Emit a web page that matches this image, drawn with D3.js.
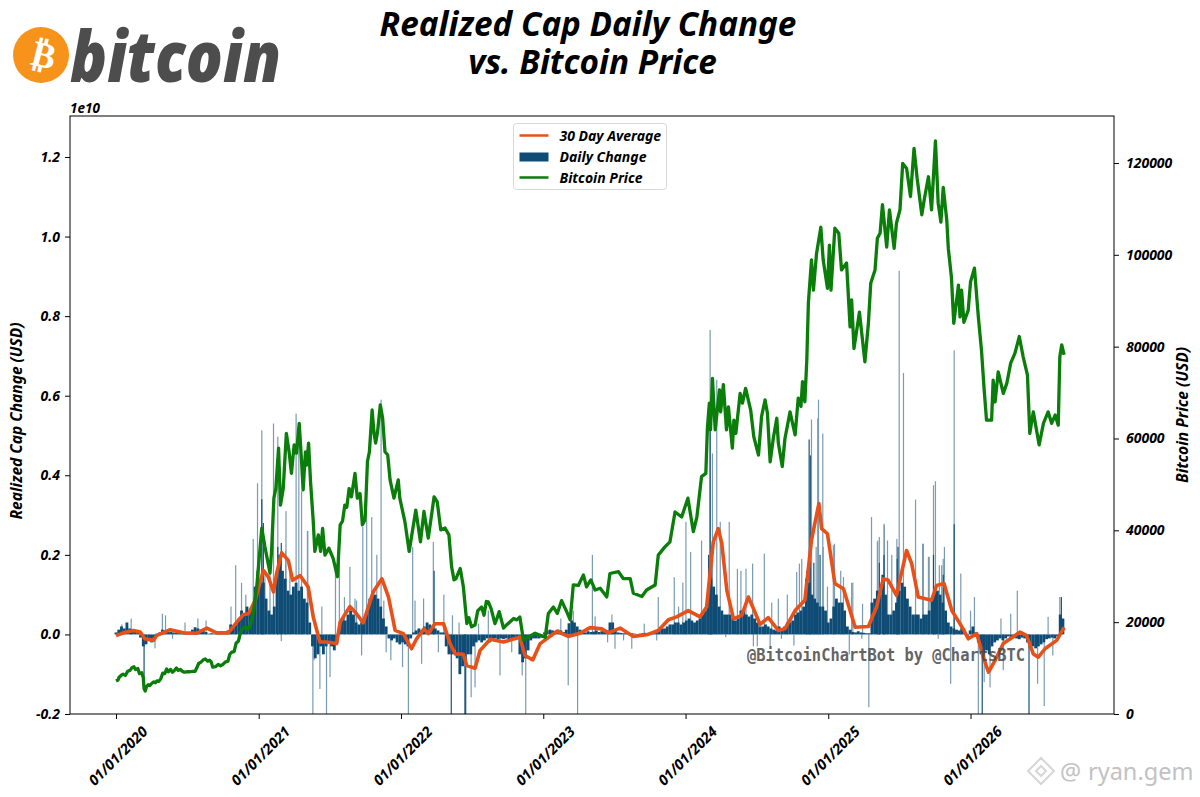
<!DOCTYPE html>
<html>
<head>
<meta charset="utf-8">
<script src="https://cdn.jsdelivr.net/npm/d3@7"></script>
<style>
  html, body { margin: 0; background: #fff; }
  text { font-family: "Noto Sans", sans-serif; font-weight: 700; font-style: italic; fill: #000; }
</style>
</head>
<body>
<svg id="chart" width="1200" height="797"></svg>
<script>
// every day value below counts days from 01/01/2020
const startDate = Date.UTC(2020, 0, 1);
const yearTicks = [2020, 2021, 2022, 2023, 2024, 2025, 2026];
const leftTicks = [-0.2, 0, 0.2, 0.4, 0.6, 0.8, 1.0, 1.2];
const rightTicks = [0, 20000, 40000, 60000, 80000, 100000, 120000];

// weekly body of the daily change, in units of 1e10 USD
const changeWeekly = [
  // 2020
  .005,.012,.02,.015,.03,.015,.012,.01,.005,-.008,-.03,-.025,-.015,-.02,-.012,
  .002,.005,.012,.01,.008,.006,.005,.004,.006,.004,.003,.004,.006,.012,.018,.015,.012,.014,.006,
  .002,.003,.002,.003,.004,.003,.004,.01,.025,.02,.03,.04,.06,.05,.07,.055,.07,.12,.16,
  // 2021
  .14,.13,.09,.06,.05,.07,.15,.2,.16,.14,
  .11,.1,.12,.13,.11,.12,.09,.08,.03,-.03,
  -.06,-.05,-.03,-.05,-.03,-.02,-.03,-.04,-.02,.02,
  .04,.035,.05,.06,.05,.03,.025,.03,.04,.06,
  .09,.1,.1,.09,.07,.04,.02,-.01,-.015,-.01,
  -.02,-.025,
  // 2022
  -.02,-.025,-.03,-.01,.005,.01,
  .015,.01,.02,.03,.025,.02,.015,.01,.005,.005,
  -.03,-.05,-.05,-.04,-.06,-.1,-.08,-.07,-.05,
  -.05,-.03,-.02,-.015,-.02,-.015,-.01,-.02,-.015,-.01,-.012,-.01,-.012,-.01,-.015,-.01,-.008,-.01,
  -.05,-.07,-.06,-.04,-.015,-.01,-.01,-.01,-.008,
  // 2023
  .005,.01,.012,.01,.008,.012,
  .01,.006,.012,.028,.035,.03,.02,.012,
  .006,.005,.008,.006,.007,.01,.006,.008,.006,.01,.03,.03,
  .01,.005,.004,.003,.003,.004,.003,.002,-.002,.002,.003,.004,.003,.004,.005,
  .008,.012,.015,.015,.02,.025,.025,.03,.03,.025,.03,
  // 2024
  .035,.04,.035,.03,.035,.04,
  .05,.06,.1,.14,.12,.1,.07,.06,.05,.05,
  .05,.04,.035,.04,.06,.06,.05,.045,.05,.04,
  .03,.02,.02,.025,.02,.015,
  .012,.01,.02,.015,.02,.03,.03,.035,
  .05,.055,.06,.07,.14,.13,.1,.09,.08,.07,.07,.06,
  // 2025
  .03,.04,.07,.09,.08,.08,.06,.02,.012,.006,
  .005,.008,.005,.004,.003,.003,.08,.09,.11,.1,
  .15,.1,.05,.05,.06,.08,.11,.13,.12,.09,
  .07,.05,.05,.05,.04,.05,.05,.06,.09,.11,
  .11,.1,.08,.06,.03,.02,.015,.012,.01,.015,
  .005,-.005,
  // 2026
  .01,.02,.005,-.02,-.05,-.06,-.04,-.05,-.03,-.02,
  -.015,-.01,-.015,-.01,-.005,-.008,-.005,-.01,-.012,
  -.008,-.01,-.02,-.035,-.03,-.035,-.03,-.025,-.02,-.012,-.01,-.008,-.01,-.005,.05,.04
];

// single day spikes above the body, [day, change in 1e10 USD]
const changeSpikes = [
  [15,.025],[39,.04],[100,-.035],[119,.052],[127,.048],[145,-.011],[177,.03],[210,.04],[231,.035],
  [295,.07],[307,.174],[322,.13],[333,.1],[352,.24],[363,.38],[365,.186],[374,.513],[382,.16],[395,.17],[404,.53],[415,.497],[424,-.017],
  [435,.21],[436,.31],[446,.16],[462,.555],[469,.53],[476,.36],[491,.26],[492,.26],[505,-.2],[508,-.065],[523,-.137],[528,.07],[540,-.2],[549,-.107],
  [563,.17],[573,.195],[586,.094],[600,.17],[613,.09],[617,.085],[630,-.053],[633,.27],[643,.287],[656,.295],[669,.2],[680,.59],[687,.085],
  [693,-.045],[705,-.065],[735,-.082],[750,-.2],[761,.22],[767,.085],[784,-.074],[789,.09],
  [814,.232],[827,-.045],[841,.1],[863,.048],[880,.03],[911,-.158],[921,-.133],[930,.027],[955,.06],
  [985,-.103],[1015,-.045],[1042,-.103],[1051,-.2],[1118,.01],[1141,.04],[1160,-.128],[1173,.06],[1184,-.2],
  [1222,.2],[1229,.045],[1261,-.02],[1272,.05],[1280,-.036],[1302,-.015],[1323,-.036],[1355,.027],[1387,-.015],
  [1391,.094],[1432,.144],[1443,.07],[1454,.13],[1462,.283],[1474,.207],[1502,.236],[1524,.765],[1530,.455],
  [1541,.64],[1550,.283],[1564,-.007],[1573,.283],[1594,.165],[1603,.16],[1616,.165],[1633,.178],[1635,-.03],
  [1645,-.03],[1663,.203],[1678,-.03],[1682,.08],[1699,.09],[1707,-.011],[1722,.1],[1739,-.028],[1746,.157],
  [1753,.178],[1759,.19],[1772,.16],[1784,.54],[1796,.22],[1800,.543],[1802,.59],[1813,.505],[1814,.22],[1825,.12],[1840,.224],[1843,.228],[1859,.16],[1866,.144],[1881,-.05],
  [1887,.13],[1890,.13],[1913,-.011],[1915,.077],[1931,-.183],[1938,.295],[1953,.232],[1954,.236],[1958,.245],[1970,.278],[1971,.274],[1979,.236],[1990,.2],
  [2003,.24],[2009,.914],[2020,.657],[2051,.339],[2069,.228],[2071,.228],[2084,.195],[2086,.195],[2097,.375],[2102,.385],[2109,-.011],
  [2112,.174],[2118,.174],[2122,.19],[2125,.22],[2141,-.124],[2150,.714],[2167,.153],[2192,.06],[2202,.094],[2212,-.2],[2227,-.12],[2242,-.133],
  [2270,.04],[2276,-.09],[2295,.052],[2312,.11],[2364,-.124],[2381,-.18],[2391,.044],[2403,-.053],[2421,.094]
];

// the same, for the spikes that show at full colour
const changeDarkSpikes = [
  [72,-.13],[374,.34],[378,.28],[415,.22],[424,.23],[816,.16],[860,-.2],[895,-.2],[897,-.2],[1520,.2],[1524,.513],[1527,.2],
  [1772,.16],[1778,.49],[1781,.45],[1790,.18],[1806,.2],[1958,.18],[1970,.2],[2004,.19],[2006,.22],[2097,.2],[2122,.15],
  [2150,.277],[2222,-.2],[2342,-.2],[2425,.094]
];

// 30 day average, [day, 1e10 USD]
const averageSeries = [
  [0,-.003],[19,.004],[45,.01],[62,.006],[74,-.011],[96,-.015],[104,-.003],[139,.012],[173,.004],[207,.003],
  [233,.016],[258,.004],[288,.004],[310,.031],[327,.05],[340,.052],[357,.086],[378,.161],[391,.144],[404,.107],
  [412,.153],[425,.205],[442,.186],[453,.136],[472,.148],[493,.119],[506,.044],[523,-.019],[540,-.019],[566,-.023],
  [575,.031],[600,.07],[617,.052],[634,.029],[660,.107],[682,.14],[699,.094],[716,.01],[737,.002],[758,-.036],
  [771,-.011],[790,.014],[801,.002],[818,.027],[840,.027],[857,-.023],[870,-.049],[891,-.05],[900,-.078],[921,-.085],
  [934,-.04],[960,-.012],[994,-.019],[1036,-.007],[1049,-.053],[1069,-.064],[1088,-.023],[1131,.008],[1160,-.005],
  [1190,.003],[1216,.017],[1246,.014],[1263,.004],[1293,.016],[1327,-.005],[1361,-.001],[1391,.01],[1417,.037],
  [1438,.044],[1468,.06],[1498,.044],[1515,.069],[1532,.232],[1545,.266],[1554,.228],[1567,.11],[1584,.039],
  [1605,.048],[1622,.094],[1635,.065],[1652,.025],[1673,.042],[1699,.01],[1716,.014],[1742,.06],[1767,.086],
  [1784,.237],[1803,.329],[1810,.266],[1825,.253],[1844,.128],[1866,.115],[1896,.018],[1930,.02],[1951,.069],
  [1968,.14],[1981,.136],[2002,.098],[2028,.211],[2041,.178],[2058,.094],[2092,.086],[2105,.123],[2124,.128],
  [2144,.06],[2173,.014],[2186,-.011],[2208,.002],[2225,-.057],[2238,-.095],[2255,-.065],[2276,-.023],[2319,.006],
  [2336,-.003],[2353,-.049],[2366,-.057],[2383,-.036],[2413,-.015],[2432,.018]
];

// bitcoin price, [day, USD]
const priceSeries = [
  [0,7200],[5,7400],[8,8000],[13,8400],[18,8700],[24,8400],[30,9300],[36,9500],[41,10100],[46,10300],[50,9700],
  [56,9900],[60,8800],[66,9000],[70,7900],[72,5500],[75,5000],[78,5900],[83,6400],[87,6200],[92,6700],[97,7000],
  [101,6800],[105,7200],[110,7100],[115,7700],[120,8900],[125,8800],[130,9800],[134,9200],[140,9700],[145,9100],
  [150,9500],[155,10000],[160,9500],[165,9700],[170,9300],[175,9100],[182,9200],[190,9200],[196,9300],[203,9300],
  [207,10000],[212,11000],[218,11300],[224,11800],[229,12000],[235,11500],[240,11700],[244,11400],[248,10200],
  [255,10300],[262,10800],[268,10500],[273,10700],[280,11300],[287,11500],[292,13000],[297,13500],[303,13600],
  [308,15400],[314,15900],[320,18000],[326,18700],[333,19000],[338,18300],[344,19200],[352,22000],[361,27700],
  [374,40500],[382,36400],[395,30700],[399,35400],[405,47000],[410,49100],[417,57900],[422,45500],[429,49100],
  [437,61100],[444,57100],[450,52400],[457,58600],[463,56800],[470,63300],[476,55000],[480,48800],[486,57100],
  [489,54200],[494,59000],[499,50600],[506,41900],[510,35400],[519,39000],[525,35400],[530,40400],[536,34600],
  [546,36100],[557,33900],[568,29900],[575,41200],[581,42000],[587,45500],[592,45000],[598,49100],[604,47300],
  [613,52400],[619,47000],[626,48000],[632,41200],[639,42300],[645,55000],[650,57100],[657,66200],[662,61100],
  [666,59000],[671,61500],[678,67300],[684,64400],[690,57100],[697,56400],[703,51000],[713,47000],[724,51000],
  [728,47000],[741,41900],[752,35400],[769,44400],[781,37500],[790,44100],[801,38300],[816,47300],[824,46200],
  [833,40100],[844,40500],[854,39000],[861,32000],[867,29200],[872,29500],[883,31700],
  [891,27700],[900,19700],[905,21000],[912,19000],[921,19400],[928,22500],[938,23300],[944,21500],[950,24500],[955,24400],
  [962,23000],[972,19700],[978,21000],[983,22300],[994,18700],[1003,19500],[1011,20100],[1020,20800],
  [1028,20500],[1036,21100],[1045,16100],[1075,17600],[1101,16700],[1109,21900],[1122,23300],[1132,21900],
  [1143,24700],[1155,22500],[1165,20500],[1173,28100],[1186,28000],[1199,30300],[1207,27700],[1218,29200],
  [1229,27000],[1242,27400],[1259,25500],[1267,30600],[1289,31000],[1301,29500],[1319,29500],[1327,26300],
  [1349,25600],[1361,27000],[1383,28100],[1391,34600],[1408,36400],[1421,37500],[1434,44000],[1451,42900],
  [1467,47000],[1481,39700],[1490,42900],[1502,51700],[1513,52400],[1517,62200],[1522,67700],[1525,61900],
  [1530,73100],[1537,61900],[1548,70600],[1551,65800],[1558,71700],[1566,61900],[1571,66900],[1581,57900],
  [1585,64000],[1590,61100],[1601,69800],[1607,67700],[1615,70900],[1628,66200],[1636,60400],[1648,56400],
  [1656,64800],[1665,68400],[1671,65500],[1678,54900],[1686,60000],[1695,64400],[1699,59000],[1709,53900],
  [1716,60000],[1729,65800],[1742,60800],[1750,68800],[1757,67000],[1761,72400],[1767,68000],[1772,77100],
  [1776,89400],[1784,98900],[1789,92300],[1797,100300],[1808,106000],[1814,98900],[1825,92700],[1830,102100],
  [1834,92300],[1844,105800],[1854,104700],[1861,96700],[1874,98200],[1883,84300],[1887,90200],[1893,79600],
  [1907,87500],[1913,82900],[1921,76700],[1930,85100],[1936,93800],[1947,96700],[1953,103600],[1960,104700],
  [1966,110900],[1977,101700],[1984,109800],[1996,101400],[2002,106900],[2011,109800],[2018,119900],[2028,118800],
  [2038,112700],[2047,123200],[2055,116700],[2067,108700],[2073,111900],[2084,117000],[2092,109800],[2102,124800],
  [2109,111200],[2116,107100],[2122,114700],[2131,107600],[2135,101400],[2143,95100],[2149,85100],[2161,93400],
  [2165,86500],[2169,92300],[2175,85300],[2186,87900],[2192,94100],[2202,97100],[2212,86500],[2220,79300],
  [2227,70600],[2233,64000],[2246,64000],[2250,72700],[2255,68000],[2263,74500],[2276,69800],[2285,72000],
  [2295,76400],[2306,78600],[2317,82200],[2327,77800],[2338,73800],[2344,61100],[2353,65800],[2368,58600],
  [2379,63300],[2391,65800],[2400,63300],[2409,65100],[2417,62900],[2421,77800],[2426,80400],[2432,78200]
];

const legendLabels = ["30 Day Average", "Daily Change", "Bitcoin Price"];
const colors = { avg: "#e8501a", bar: "#0f4c75", price: "#0a7d0a" };

const svg = d3.select("#chart");
const plot = { left: 70, right: 1114, top: 116, bottom: 714 };

const dayDate = d => new Date(startDate + d * 864e5);
const x = d3.scaleUtc()
  .domain([dayDate(-118), dayDate(2560)])
  .range([plot.left, plot.right]);
const yChange = d3.scaleLinear().domain([-0.2, 1.303]).range([plot.bottom, plot.top]);
const yPrice = d3.scaleLinear().domain([0, 130230]).range([plot.bottom, plot.top]);

svg.append("clipPath").attr("id", "plotClip").append("rect")
  .attr("x", plot.left).attr("y", plot.top)
  .attr("width", plot.right - plot.left).attr("height", plot.bottom - plot.top);

const marks = svg.append("g").attr("clip-path", "url(#plotClip)");

function drawBars(data, width, opacity) {
  marks.append("g").attr("fill", colors.bar).attr("opacity", opacity)
    .selectAll("rect").data(data).join("rect")
    .attr("x", d => x(dayDate(d[0])) - width / 2)
    .attr("width", width)
    .attr("y", d => Math.min(yChange(d[1]), yChange(0)))
    .attr("height", d => Math.abs(yChange(d[1]) - yChange(0)));
}

drawBars(changeSpikes, 1.2, 0.55);
drawBars(changeDarkSpikes, 1.2, 0.95);
drawBars(changeWeekly.map((v, i) => [i * 7, v]), x(dayDate(7)) - x(dayDate(0)) + 0.1, 1);

const avgLine = d3.line().x(d => x(dayDate(d[0]))).y(d => yChange(d[1]));
const priceLine = d3.line().x(d => x(dayDate(d[0]))).y(d => yPrice(d[1]));

marks.append("path").datum(averageSeries).attr("d", avgLine)
  .attr("fill", "none").attr("stroke", colors.avg).attr("stroke-width", 3.6).attr("stroke-linejoin", "round");
marks.append("path").datum(priceSeries).attr("d", priceLine)
  .attr("fill", "none").attr("stroke", colors.price).attr("stroke-width", 3.3).attr("stroke-linejoin", "round");

// axes
const xAxis = d3.axisBottom(x)
  .tickValues(yearTicks.map(y => new Date(Date.UTC(y, 0, 1))))
  .tickFormat(d3.utcFormat("%m/%d/%Y")).tickSize(5);
const leftAxis = d3.axisLeft(yChange).tickValues(leftTicks).tickFormat(d3.format(".1f")).tickSize(5);
const rightAxis = d3.axisRight(yPrice).tickValues(rightTicks).tickFormat(d3.format("d")).tickSize(5);

const gx = svg.append("g").attr("transform", `translate(0,${plot.bottom})`).call(xAxis);
gx.selectAll("text")
  .attr("text-anchor", "middle").attr("y", 0).attr("dy", "0.35em")
  .attr("transform", "translate(1.5,42) rotate(-45)");
const gl = svg.append("g").attr("transform", `translate(${plot.left},0)`).call(leftAxis);
const gr = svg.append("g").attr("transform", `translate(${plot.right},0)`).call(rightAxis);
[gx, gl, gr].forEach(g => {
  g.selectAll("text").style("font-size", "14px");
  g.selectAll("line").attr("stroke", "#000");
  g.select(".domain").remove();
});
gx.selectAll("text").style("font-size", "14.5px");
gl.selectAll("text").attr("x", -10);
gr.selectAll("text").attr("x", 12);

svg.append("rect")
  .attr("x", plot.left).attr("y", plot.top)
  .attr("width", plot.right - plot.left).attr("height", plot.bottom - plot.top)
  .attr("fill", "none").attr("stroke", "#000").attr("stroke-width", 1);

svg.append("text").attr("x", plot.left).attr("y", 113).style("font-size", "13.5px").text("1e10");

svg.append("text").attr("transform", "translate(22,421) rotate(-90)").attr("text-anchor", "middle")
  .style("font-size", "15.5px").text("Realized Cap Change (USD)");
svg.append("text").attr("transform", "translate(1188,415) rotate(-90)").attr("text-anchor", "middle")
  .style("font-size", "15.5px").text("Bitcoin Price (USD)");

// title
svg.append("text").attr("x", 588).attr("y", 36).attr("text-anchor", "middle")
  .style("font-size", "33.3px").text("Realized Cap Daily Change");
svg.append("text").attr("x", 592.5).attr("y", 74).attr("text-anchor", "middle")
  .style("font-size", "33.3px").text("vs. Bitcoin Price");

// logo
svg.append("circle").attr("cx", 41).attr("cy", 55).attr("r", 28).attr("fill", "#f7931a");
svg.append("text").attr("transform", "translate(41,67) rotate(14)").attr("text-anchor", "middle")
  .style("font-family", "'DejaVu Sans'").style("font-style", "normal").style("font-size", "36px").style("fill", "#fff").text("₿");
svg.append("text").attr("x", 70).attr("y", 82).attr("textLength", 211).attr("lengthAdjust", "spacingAndGlyphs")
  .style("font-family", "'Open Sans'").style("font-weight", 800).style("font-size", "70px").style("fill", "#4d4d4d").text("bitcoin");

// legend
const legend = svg.append("g").attr("transform", "translate(513.5,123.5)");
legend.append("rect").attr("width", 153).attr("height", 66).attr("rx", 3)
  .attr("fill", "#fff").attr("fill-opacity", 0.85).attr("stroke", "#d8d8d8");
legendLabels.forEach((label, i) => {
  const ly = 12 + i * 21;
  if (i === 1) {
    legend.append("rect").attr("x", 6).attr("y", ly - 4).attr("width", 29).attr("height", 9).attr("fill", colors.bar);
  } else {
    legend.append("line").attr("x1", 6).attr("x2", 35).attr("y1", ly).attr("y2", ly)
      .attr("stroke", i === 0 ? colors.avg : colors.price).attr("stroke-width", 2.5);
  }
  legend.append("text").attr("x", 46).attr("y", ly + 5).style("font-size", "14px").text(label);
});

// watermarks
svg.append("text").attr("x", 747).attr("y", 661).attr("textLength", 278).attr("lengthAdjust", "spacingAndGlyphs")
  .style("font-family", "'DejaVu Sans Mono'").style("font-style", "normal").style("font-weight", 700)
  .style("font-size", "17px").style("fill", "#4a4a4a").attr("opacity", 0.85)
  .text("@BitcoinChartBot by @ChartsBTC");
const mark = svg.append("g").attr("transform", "translate(1041,771)").attr("fill", "none").attr("stroke", "#d6d6d6").attr("stroke-width", 2);
[13, 5].forEach(r => {
  mark.append("path").attr("d", d3.line()(d3.range(4).map(i => [r * Math.cos(i * Math.PI / 2), r * Math.sin(i * Math.PI / 2)])) + "Z");
});
svg.append("text").attr("x", 1060).attr("y", 780)
  .style("font-style", "normal").style("font-weight", 400).style("font-size", "23.5px").style("fill", "#c2c2c2").text("@");
svg.append("text").attr("x", 1088).attr("y", 780)
  .style("font-style", "normal").style("font-weight", 400).style("font-size", "23.5px").style("fill", "#c2c2c2").text("ryan.gem");
</script>
</body>
</html>
